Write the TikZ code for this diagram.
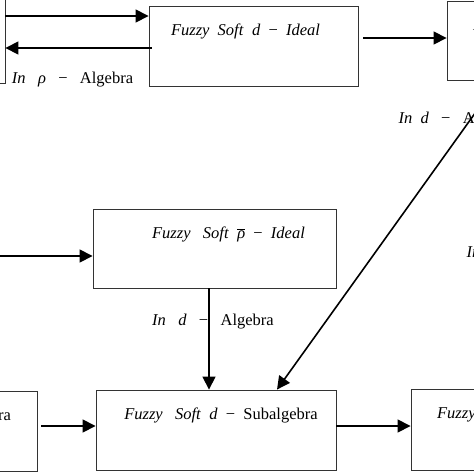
\documentclass[tikz,border=0pt]{standalone}
\usepackage{fontspec}
\setmainfont{Liberation Serif}
\usetikzlibrary{arrows.meta}
\tikzset{
  block/.style={draw=black!80, line width=0.9pt, minimum width=#1, minimum height=80pt, inner sep=0pt},
  title/.style={anchor=north, yshift=-15pt, font=\fontsize{16.5}{19}\selectfont},
  tag/.style={font=\fontsize{16.5}{19}\selectfont},
  link/.style={line width=1.6pt, -{Triangle[length=13pt,width=13pt]}}
}
\newcommand{\gap}{\hspace{0.5em}}
\newcommand{\wgap}{\hspace{0.75em}}

\begin{document}
\begin{tikzpicture}[x=1pt,y=-1pt]
  \useasboundingbox (0,0) rectangle (474,474);
  \clip (0,0) rectangle (474,474);
  % boxes
  \node[block=155pt, minimum height=93pt] (topLeft) at (-72.5,36.5) {};
  \node[block=209pt, label={[title, xshift=-8pt]north:{\textit{Fuzzy}\gap\textit{Soft}\gap\textit{d}\gap−\gap\textit{Ideal}}}] (dIdeal) at (253.5,46) {};
  \node[block=213pt, minimum height=79pt, label={[title, anchor=north west, xshift=23pt]north west:{\textit{Fuzzy}\gap\textit{Soft}\gap\textit{d}\gap−\gap\textit{Ideal}}}] (topRight) at (553.5,40.5) {};
  \node[block=243pt, minimum height=79pt, label={[title, xshift=14pt]north:{\textit{Fuzzy}\wgap\textit{Soft}\gap$\overline{\textit{ρ}}$\gap−\gap\textit{Ideal}}}] (rhoIdeal) at (214.5,248.5) {};
  \node[block=234pt, label={[title, anchor=north east, xshift=-23pt]north east:{\textit{Fuzzy}\gap\textit{Soft}\gap\textit{ρ}\gap−\gap Subalgebra}}] (botLeft) at (-80,431) {};
  \node[block=240pt, label={[title, xshift=5pt]north:{\textit{Fuzzy}\wgap\textit{Soft}\gap\textit{d}\gap−\gap Subalgebra}}] (dSub) at (216,430) {};
  \node[block=239pt, minimum height=81pt, label={[title, anchor=north west, xshift=23pt]north west:{\textit{Fuzzy}\gap\textit{Soft}\gap$\overline{\textit{ρ}}$\gap−\gap Subalgebra}}] (botRight) at (530.5,429.5) {};
  % arrow texts
  \node[tag] (tRho) at (72.5,80) {\textit{In}\wgap\textit{ρ}\wgap−\wgap Algebra};
  \node[tag, anchor=west] (tDiag) at (395,120) {\textit{In}\gap\textit{d}\wgap−\wgap Algebra};
  \node[tag] (tMid) at (213,322) {\textit{In}\wgap\textit{d}\wgap−\wgap Algebra};
  \node[tag, anchor=west] (tRight) at (463,254) {\textit{In}\gap\textit{d}\wgap−\wgap Algebra};
  \coordinate (inLeft) at (-10,256);
  % arrows
  \begin{scope}[link]
    \draw ([yshift=20.5pt]topLeft.east) -- ([yshift=30pt]dIdeal.west);
    \draw ([xshift=3pt,yshift=-2pt]dIdeal.west) -- ([yshift=-11.5pt]topLeft.east);
    \draw[shorten <=5pt] ([yshift=8pt]dIdeal.east) -- ([yshift=2.5pt]topRight.west);
    \draw ([xshift=-55pt]topRight.south) -- ([xshift=61pt]dSub.north);
    \draw (inLeft) -- (inLeft -| rhoIdeal.west);
    \draw ([xshift=-5.5pt]rhoIdeal.south) -- ([xshift=-5.5pt]rhoIdeal.south |- dSub.north);
    \draw[shorten <=4pt] ([yshift=5pt]botLeft.east) -- ([yshift=4pt]dSub.west);
    \draw ([yshift=4pt]dSub.east) -- ([yshift=3.5pt]botRight.west);
  \end{scope}
\end{tikzpicture}
\end{document}
